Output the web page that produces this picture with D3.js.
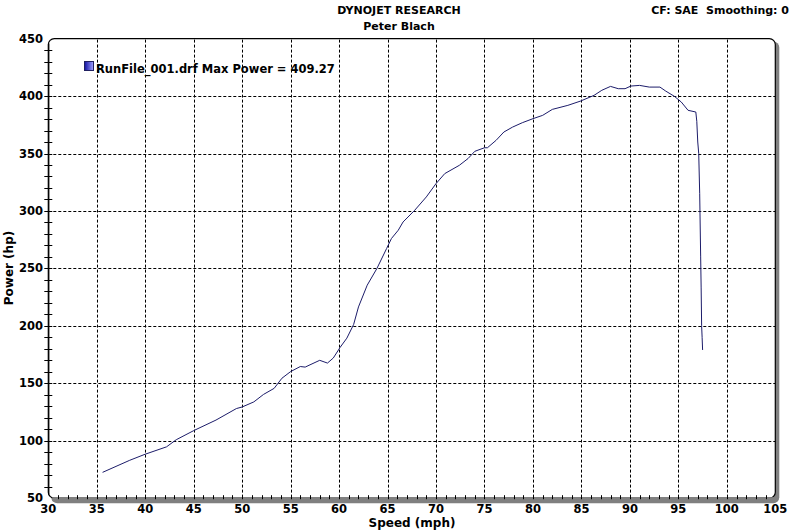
<!DOCTYPE html>
<html><head><meta charset="utf-8">
<script src="https://cdn.jsdelivr.net/npm/d3@7"></script>
<style>
html,body{margin:0;padding:0;background:#fff;}
svg{display:block;}
text{font-family:"DejaVu Sans",Verdana,sans-serif;font-weight:bold;fill:#000;white-space:pre;}
</style></head>
<body>
<svg id="c" width="799" height="531"></svg>
<script>
const speed = [35.6,38.4,40.0,42.2,43.2,45.0,47.3,49.4,50.0,51.2,52.2,53.3,54.1,55.0,56.0,56.5,57.0,58.0,58.8,59.4,60.1,60.8,61.5,62.0,62.9,63.9,64.9,65.4,66.1,66.6,67.8,69.0,70.0,70.9,72.4,73.3,74.0,75.0,75.3,76.2,77.0,77.9,78.9,80.0,81.0,82.0,83.6,84.9,86.3,87.1,88.0,88.8,89.5,90.1,91.0,92.0,93.1,93.7,94.6,95.3,96.0,96.8,96.9,97.0,97.1,97.2,97.3,97.35,97.4,97.45,97.5];
const power = [72.5,83,88.3,94.7,100.9,108.8,118,128,129.4,133.8,140.3,145.6,154.4,160.2,164.6,164.1,166.1,170,167.6,172,181.2,189.3,201.2,216.5,235.4,249.9,267.3,276,283.2,290.4,300.6,312.2,323.8,332.5,339.7,345.6,351.9,355,355,361.5,368.7,373,376.8,380.3,383.2,388.4,391.9,395.6,400.6,405,408.4,406.4,406.4,408.7,409.27,407.8,407.8,404.3,399.7,394.8,387.6,386.1,378,360,350,315,260,233,200,190,179];
const xTicks = [30,35,40,45,50,55,60,65,70,75,80,85,90,95,100,105];
const yTicks = [50,100,150,200,250,300,350,400,450];
const titleLines = ["DYNOJET RESEARCH","Peter Blach"];
const cornerNote = "CF: SAE  Smoothing: 0";
const legendLabel = "RunFile_001.drf Max Power = 409.27";
const xLabel = "Speed (mph)";
const yLabel = "Power (hp)";

const svg = d3.select("#c");
const x = d3.scaleLinear().domain([30,105]).range([48.3,775.3]);
const y = d3.scaleLinear().domain([50,450]).range([498.2,38.6]);
const L=x(30), R=x(105), T=y(450), B=y(50);

// shadow
svg.append("rect").attr("x",L+3).attr("y",T+3).attr("width",R-L+1).attr("height",B-T+2)
  .attr("rx",6).attr("fill","#808080");
svg.append("rect").attr("x",L).attr("y",T).attr("width",R-L).attr("height",B-T)
  .attr("rx",6).attr("fill","#fff").attr("stroke","#000").attr("stroke-width",1.2);

// grid
const g = svg.append("g");
g.selectAll(".vg").data(xTicks.filter(d=>d>30&&d<105)).enter().append("line")
  .attr("x1",d=>Math.round(x(d))+0.5).attr("x2",d=>Math.round(x(d))+0.5)
  .attr("y1",T+1).attr("y2",B).attr("stroke","#000").attr("stroke-dasharray","3,2").attr("stroke-width",1);
g.selectAll(".hg").data(yTicks.filter(d=>d>50&&d<450)).enter().append("line")
  .attr("y1",d=>Math.round(y(d))+0.5).attr("y2",d=>Math.round(y(d))+0.5)
  .attr("x1",L).attr("x2",R).attr("stroke","#000").attr("stroke-dasharray","3,2").attr("stroke-width",1);

// bottom axis band
svg.append("rect").attr("x",L+4).attr("y",B-1).attr("width",R-L-4).attr("height",4).attr("fill","#808080");

// minor ticks x
const xMinor = d3.range(31,105,1);
svg.selectAll(".xm").data(xMinor).enter().append("line")
  .attr("x1",d=>Math.round(x(d))+0.5).attr("x2",d=>Math.round(x(d))+0.5)
  .attr("y1",B-3).attr("y2",B+1).attr("stroke","#000").attr("stroke-width",1);
// y ticks
const yMinor = d3.range(60,450,10);
svg.selectAll(".ym").data(yMinor).enter().append("line")
  .attr("y1",d=>Math.round(y(d))+0.5).attr("y2",d=>Math.round(y(d))+0.5)
  .attr("x1",L-4).attr("x2",L+4).attr("stroke","#000").attr("stroke-width",1);
// left axis line
svg.append("line").attr("x1",L+0.5).attr("x2",L+0.5).attr("y1",T+5).attr("y2",B-4).attr("stroke","#000").attr("stroke-width",1.2);

// tick labels
svg.selectAll(".xl").data(xTicks).enter().append("text")
  .attr("x",d=>x(d)).attr("y",513).attr("text-anchor","middle").attr("font-size",11.5).text(d=>d);
svg.selectAll(".yl").data(yTicks).enter().append("text")
  .attr("x",43).attr("y",d=>y(d)+4).attr("text-anchor","end").attr("font-size",11.5).text(d=>d);

// axis labels
svg.append("text").attr("x",412).attr("y",527).attr("text-anchor","middle").attr("font-size",12).text(xLabel);
svg.append("text").attr("transform","translate(13,268) rotate(-90)").attr("text-anchor","middle").attr("font-size",12).text(yLabel);

// titles
svg.selectAll(".tt").data(titleLines).enter().append("text")
  .attr("x",399).attr("y",(d,i)=>14+i*16).attr("text-anchor","middle").attr("font-size",11).text(d=>d);
svg.append("text").attr("x",789).attr("y",14).attr("text-anchor","end").attr("font-size",11).text(cornerNote);

// legend
const grad = svg.append("defs").append("linearGradient").attr("id","lg");
grad.append("stop").attr("offset","0%").attr("stop-color","#1010a0");
grad.append("stop").attr("offset","100%").attr("stop-color","#a0a0ff");
svg.append("rect").attr("x",84.5).attr("y",61.5).attr("width",9).attr("height",9).attr("fill","url(#lg)").attr("stroke","#202060");
svg.append("text").attr("x",96).attr("y",73).attr("font-size",11.5).text(legendLabel);

// line
const line = d3.line().x((d,i)=>x(speed[i])).y(d=>y(d));
svg.append("path").attr("d",line(power)).attr("fill","none").attr("stroke","#1c1c6a").attr("stroke-width",1);
</script>
</body></html>
